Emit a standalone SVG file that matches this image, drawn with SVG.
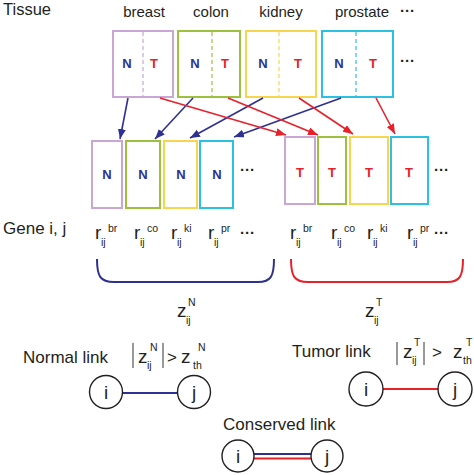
<svg xmlns="http://www.w3.org/2000/svg" width="474" height="475" viewBox="0 0 474 475">
<style>
text{font-family:"Liberation Sans",Arial,sans-serif;fill:#231f20}
.lbl{font-size:15px}
.big{font-size:17px}
.nl{font-size:19px}
.nb{font-size:13px;font-weight:bold;fill:#2e3192}
.tb{font-size:13px;font-weight:bold;fill:#e8202a}
.dots{font-size:15px;font-weight:bold}
.r{font-size:19px}
.s{font-size:10.5px}
.box{fill:#fff;stroke-width:2}
.pu{stroke:#c9a6d3}.gr{stroke:#9dc13c}.ye{stroke:#f8d54e}.cy{stroke:#2cc0e2}
.dash{stroke-width:1.2;stroke-dasharray:4 3}
.bl{stroke:#2e3192;stroke-width:1.6;fill:none}
.rd{stroke:#e8202a;stroke-width:1.6;fill:none}
.node{fill:#fff;stroke:#231f20;stroke-width:1.4}
.bar{stroke:#555;stroke-width:1.2}
</style>
<defs>
<marker id="ab" markerUnits="userSpaceOnUse" markerWidth="12" markerHeight="10" refX="10" refY="4" orient="auto"><path d="M0,0 L10,4 L0,8 z" fill="#2e3192"/></marker>
<marker id="ar" markerUnits="userSpaceOnUse" markerWidth="12" markerHeight="10" refX="10" refY="4" orient="auto"><path d="M0,0 L10,4 L0,8 z" fill="#e8202a"/></marker>
</defs>

<g id="header">
<text x="3" y="15" style="font-size:16.5px">Tissue</text>
<text class="lbl" x="144" y="17" text-anchor="middle">breast</text>
<text class="lbl" x="211" y="17" text-anchor="middle">colon</text>
<text class="lbl" x="281" y="17" text-anchor="middle">kidney</text>
<text class="lbl" x="362" y="17" text-anchor="middle">prostate</text>
<text class="dots" x="400" y="16">···</text>
</g>

<g id="tissue-breast">
<rect class="box pu" x="113" y="31" width="60" height="66"/>
<line class="pu dash" x1="143" y1="32" x2="143" y2="96"/>
<text class="nb" x="127" y="68" text-anchor="middle">N</text>
<text class="tb" x="154" y="68" text-anchor="middle">T</text>
</g>
<g id="tissue-colon">
<rect class="box gr" x="178" y="31" width="62" height="66"/>
<line class="gr dash" x1="212" y1="32" x2="212" y2="96"/>
<text class="nb" x="195" y="68" text-anchor="middle">N</text>
<text class="tb" x="225" y="68" text-anchor="middle">T</text>
</g>
<g id="tissue-kidney">
<rect class="box ye" x="246" y="31" width="70" height="66"/>
<line class="ye dash" x1="279" y1="32" x2="279" y2="96"/>
<text class="nb" x="263" y="68" text-anchor="middle">N</text>
<text class="tb" x="298" y="68" text-anchor="middle">T</text>
</g>
<g id="tissue-prostate">
<rect class="box cy" x="322" y="31" width="71" height="66"/>
<line class="cy dash" x1="356" y1="32" x2="356" y2="96"/>
<text class="nb" x="339" y="68" text-anchor="middle">N</text>
<text class="tb" x="373" y="68" text-anchor="middle">T</text>
</g>
<text class="dots" x="400" y="66">···</text>

<g id="normal-samples">
<rect class="box pu" x="92" y="141" width="30" height="67"/>
<text class="nb" x="107" y="179" text-anchor="middle">N</text>
<rect class="box gr" x="126" y="141" width="34" height="67"/>
<text class="nb" x="143" y="179" text-anchor="middle">N</text>
<rect class="box ye" x="164" y="141" width="33" height="67"/>
<text class="nb" x="181" y="179" text-anchor="middle">N</text>
<rect class="box cy" x="200" y="141" width="33" height="67"/>
<text class="nb" x="217" y="179" text-anchor="middle">N</text>
<text class="dots" x="240" y="175">···</text>
</g>
<g id="tumor-samples">
<rect class="box pu" x="285" y="137" width="30" height="67"/>
<text class="tb" x="300" y="177" text-anchor="middle">T</text>
<rect class="box gr" x="318" y="137" width="28" height="67"/>
<text class="tb" x="332" y="177" text-anchor="middle">T</text>
<rect class="box ye" x="350" y="137" width="38" height="67"/>
<text class="tb" x="369" y="177" text-anchor="middle">T</text>
<rect class="box cy" x="391" y="137" width="37" height="67"/>
<text class="tb" x="409" y="177" text-anchor="middle">T</text>
<text class="dots" x="434" y="175">···</text>
</g>

<g id="connectors">
<line class="bl" x1="128" y1="98" x2="120" y2="139" marker-end="url(#ab)"/>
<line class="bl" x1="193" y1="98" x2="155" y2="139" marker-end="url(#ab)"/>
<line class="bl" x1="263" y1="98" x2="190" y2="138" marker-end="url(#ab)"/>
<line class="bl" x1="341" y1="98" x2="234" y2="137" marker-end="url(#ab)"/>
<line class="rd" x1="160" y1="98" x2="286" y2="135" marker-end="url(#ar)"/>
<line class="rd" x1="228" y1="98" x2="318" y2="135" marker-end="url(#ar)"/>
<line class="rd" x1="299" y1="98" x2="353" y2="134" marker-end="url(#ar)"/>
<line class="rd" x1="376" y1="98" x2="395" y2="134" marker-end="url(#ar)"/>
</g>

<g id="gene-row">
<text class="big" x="3" y="234">Gene i, j</text>
<g id="r-normal">
<text class="r" x="95" y="239">r</text><text class="s" x="101" y="246">ij</text><text class="s" x="108" y="232">br</text>
<text class="r" x="134" y="239">r</text><text class="s" x="140" y="246">ij</text><text class="s" x="147" y="232">co</text>
<text class="r" x="171" y="239">r</text><text class="s" x="177" y="246">ij</text><text class="s" x="184" y="232">ki</text>
<text class="r" x="208" y="239">r</text><text class="s" x="214" y="246">ij</text><text class="s" x="221" y="232">pr</text>
<text class="dots" x="240" y="238">···</text>
</g>
<g id="r-tumor">
<text class="r" x="290" y="239">r</text><text class="s" x="296" y="246">ij</text><text class="s" x="303" y="232">br</text>
<text class="r" x="331" y="239">r</text><text class="s" x="337" y="246">ij</text><text class="s" x="344" y="232">co</text>
<text class="r" x="367" y="239">r</text><text class="s" x="373" y="246">ij</text><text class="s" x="380" y="232">ki</text>
<text class="r" x="407" y="239">r</text><text class="s" x="413" y="246">ij</text><text class="s" x="420" y="232">pr</text>
<text class="dots" x="434" y="238">···</text>
</g>
</g>

<g id="brace-normal">
<path class="bl" d="M97,259 C97,276 100,282 114,282 L258,282 C271,282 274,276 274,259" style="stroke-width:2"/>
<text class="r" x="177" y="317">z</text><text class="s" x="186" y="324">ij</text><text class="s" x="188" y="306">N</text>
</g>
<g id="brace-tumor">
<path class="rd" d="M291,259 C291,276 294,282 308,282 L447,282 C460,282 463,276 463,259" style="stroke-width:2"/>
<text class="r" x="365" y="317">z</text><text class="s" x="374" y="324">ij</text><text class="s" x="376" y="306">T</text>
</g>

<g id="normal-link">
<text class="big" x="23" y="363">Normal link</text>
<line class="bar" x1="133" y1="343" x2="133" y2="368"/>
<text class="r" x="138" y="363">z</text><text class="s" x="147" y="369">ij</text><text class="s" x="150" y="351">N</text>
<line class="bar" x1="163" y1="343" x2="163" y2="368"/>
<text class="big" x="167" y="363">&gt;</text>
<text class="r" x="181" y="363">z</text><text class="s" x="193" y="369">th</text><text class="s" x="198" y="351">N</text>
<line class="bl" x1="122" y1="393" x2="178" y2="393" style="stroke-width:2"/>
<g id="normal-i"><circle class="node" cx="106" cy="392" r="16.5"/><text class="nl" x="106" y="399" text-anchor="middle">i</text></g>
<g id="normal-j"><circle class="node" cx="194" cy="392" r="16.5"/><text class="nl" x="194" y="399" text-anchor="middle">j</text></g>
</g>

<g id="tumor-link">
<text class="big" x="292" y="357">Tumor link</text>
<line class="bar" x1="397" y1="342" x2="397" y2="365"/>
<text class="r" x="403" y="358">z</text><text class="s" x="412" y="364">ij</text><text class="s" x="414" y="346">T</text>
<line class="bar" x1="424" y1="342" x2="424" y2="365"/>
<text class="big" x="432" y="358">&gt;</text>
<text class="r" x="453" y="358">z</text><text class="s" x="463" y="364">th</text><text class="s" x="466" y="346">T</text>
<line class="rd" x1="383" y1="389" x2="438" y2="389" style="stroke-width:2"/>
<g id="tumor-i"><circle class="node" cx="366" cy="389" r="17"/><text class="nl" x="366" y="396" text-anchor="middle">i</text></g>
<g id="tumor-j"><circle class="node" cx="455" cy="389" r="17"/><text class="nl" x="455" y="396" text-anchor="middle">j</text></g>
</g>

<g id="conserved-link">
<text class="big" x="223" y="430">Conserved link</text>
<line class="bl" x1="254" y1="454" x2="311" y2="454" style="stroke-width:1.8"/>
<line class="rd" x1="254" y1="458.5" x2="311" y2="458.5" style="stroke-width:1.8"/>
<g id="conserved-i"><circle class="node" cx="238" cy="456" r="16"/><text class="nl" x="238" y="463" text-anchor="middle">i</text></g>
<g id="conserved-j"><circle class="node" cx="327" cy="456" r="16"/><text class="nl" x="327" y="463" text-anchor="middle">j</text></g>
</g>
</svg>
